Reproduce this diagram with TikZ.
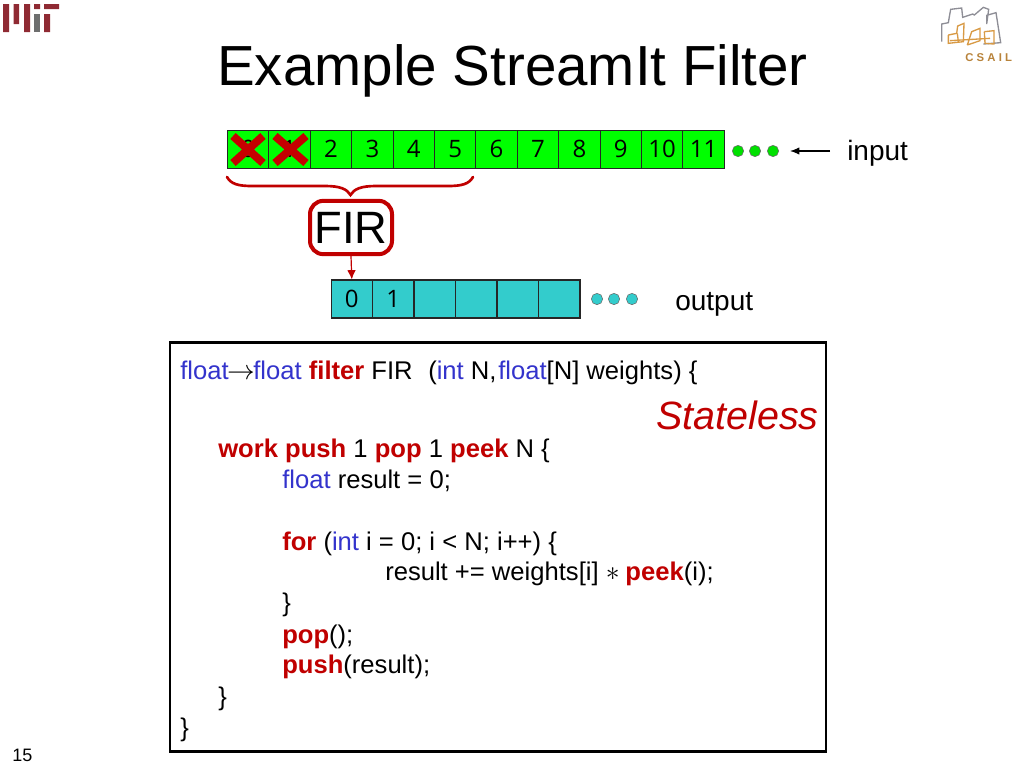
\documentclass[tikz,border=0pt]{standalone}
\usepackage{fontspec}
\setmainfont{Liberation Sans}
\newfontfamily\cellfont{Open Sans}
\usetikzlibrary{arrows.meta}
\definecolor{cellgreen}{HTML}{00FF00}
\definecolor{celldot}{HTML}{00E000}
\definecolor{celltea}{HTML}{33CCCC}
\definecolor{kwred}{HTML}{C00000}
\definecolor{kwblue}{HTML}{3333CC}
\definecolor{mitred}{HTML}{8F2A33}
\definecolor{mitgrey}{HTML}{6E6E6E}
\definecolor{csorange}{HTML}{D89A45}
\definecolor{csgrey}{HTML}{8E8E96}
\newcommand{\kw}[1]{\textcolor{kwred}{\textbf{#1}}}
\newcommand{\ty}[1]{\textcolor{kwblue}{#1}}
\tikzset{
  px/.style={x=0.75pt,y=-0.75pt},
  cellg/.style={draw=black!85,line width=0.8pt,fill=cellgreen,minimum width=31.05pt,minimum height=28.9pt,inner sep=0pt,font=\cellfont\fontsize{18}{20}\selectfont,text=black},
  cellt/.style={cellg,fill=celltea,minimum height=28.5pt},
  dotg/.style={circle,draw=black!60,line width=0.4pt,fill=celldot,minimum size=8.5pt,inner sep=0pt},
  dott/.style={dotg,fill=celltea},
  code/.style={anchor=base west,inner sep=0pt,font=\fontsize{19.2}{22}\selectfont},
  label/.style={anchor=base west,inner sep=0pt,font=\fontsize{21}{24}\selectfont},
  redx/.style={draw=kwred!90!red,line width=6pt},
  bracepath/.style={draw=kwred,line width=2pt,line cap=round},
}
\begin{document}
\begin{tikzpicture}[px]
\useasboundingbox (0,0) rectangle (1024,768);
% MIT logo
\fill[mitred] (3,4) rectangle (9,32) (13.5,4) rectangle (19,24) (24,4) rectangle (30,32) (34,4) rectangle (40,9) (44,4) rectangle (59,9) (44,14) rectangle (50,32);
\fill[mitgrey] (34,14) rectangle (40,32);
% CSAIL logo
\begin{scope}[x=0.25pt,y=-0.25pt,shift={(2790,0)}]
\draw[csgrey,line width=1pt] (35,125) -- (35,72) -- (55,68) -- (58,50) -- (62,28) -- (95,24) -- (98,52) -- (128,42) -- (133,45) -- (160,22) -- (176,28) -- (170,72) -- (170,46) -- (198,38) -- (212,128) -- (160,132);
\draw[csorange,line width=1pt] (55,105) -- (80,100) -- (83,78) -- (102,70) -- (100,125) -- (55,130) -- (55,105) (82,100) -- (85,125) (112,135) -- (125,95) -- (150,85) -- (150,122) -- (112,135) (163,95) -- (192,92) -- (192,132) -- (165,130) -- (163,95) (60,122) -- (180,115);
\end{scope}
\node[anchor=base west,inner sep=0pt,text=csorange!85!black,font=\bfseries\fontsize{8.5}{10}\selectfont] (csail) at (965,61) {C\kern2.4pt S\kern2.4pt A\kern2.4pt I\kern2.4pt L};
% title
\node[anchor=base west,inner sep=0pt,font=\fontsize{42.4}{48}\selectfont] (title) at (217,85) {Example StreamIt Filter};
% input tape
\foreach \i in {0,...,11}{
  \node[cellg] (in\i) at ({248.2+41.4*\i},149.3) {\i};
}
\draw[redx] (233,136) -- (263,163) (263,136) -- (233,163);
\draw[redx] (275,136) -- (306,163) (306,136) -- (275,163);
\node[dotg] (d1) at (738,151) {};
\node[dotg] (d2) at (755,151) {};
\node[dotg] (d3) at (773,151) {};
\coordinate (instart) at (830,151);
\coordinate (inend) at (790,151);
\draw[black,line width=0.9pt,-{Latex[length=7pt,width=5.5pt]}] (instart) -- (inend);
\node[label] (inputlab) at (847,160) {input};
% brace
\coordinate (bl) at (227,177);
\coordinate (br) at (473,177);
\coordinate (bm) at (350.5,195);
\draw[bracepath] (bl) .. controls (231,184) and (238,186) .. (252,186) -- (325,186) .. controls (340,186) and (347,189) .. (bm) .. controls (354,189) and (361,186) .. (376,186) -- (448,186) .. controls (462,186) and (469,184) .. (br);
% FIR
\node[draw=kwred,line width=3pt,rounded corners=10pt,minimum width=61.5pt,minimum height=40pt,inner sep=0pt,font=\fontsize{34}{40}\selectfont] (fir) at (351,227.5) {FIR};
% output tape
\foreach \i/\t in {0/0,1/1,2/,3/,4/,5/}{
  \node[cellt] (out\i) at ({351.8+41.5*\i},299) {\t};
}
\draw[kwred,line width=0.9pt,-{Latex[length=7pt,width=6.5pt]}] (fir.south) -- (out0.north);
\node[dott] (e1) at (597,299) {};
\node[dott] (e2) at (614,299) {};
\node[dott] (e3) at (632,299) {};
\node[label] (outputlab) at (675,310) {output};
% code box
\node[draw=black,line width=1.9pt,fill=white,minimum width=492pt,minimum height=306.5pt,inner sep=0pt] (box) at (498,547) {};
\node[code] (l1) at (180,379) {\ty{float}\kern-1.1pt$\rightarrow$\kern-1.1pt\ty{float} \kw{filter} FIR};
\node[code] (l1b) at (428,379) {(\ty{int} N,};
\node[code] (l1c) at (498,379) {\ty{float}[N] weights) \{};
\node[anchor=base east,inner sep=0pt,text=kwred,font=\itshape\fontsize{29.6}{32}\selectfont] (st) at (819,429) {Stateless};
\node[code] (l2) at (218,457) {\kw{work} \kw{push} 1 \kw{pop} 1 \kw{peek} N \{};
\node[code] (l3) at (282,488) {\ty{float} result = 0;};
\node[code] (l4) at (282,550) {\kw{for} (\ty{int} i = 0; i < N; i++) \{};
\node[code] (l5) at (385,580) {result += weights[i] $\ast$\kern-1pt\ \kw{peek}(i);};
\node[code] (l6) at (282,611) {\}};
\node[code] (l7) at (282,643) {\kw{pop}();};
\node[code] (l8) at (282,673) {\kw{push}(result);};
\node[code] (l9) at (218,705) {\}};
\node[code] (l10) at (180,736) {\}};
% page number
\node[anchor=base west,inner sep=0pt,font=\fontsize{13.5}{15}\selectfont] (pg) at (12,761) {15};
\end{tikzpicture}
\end{document}
